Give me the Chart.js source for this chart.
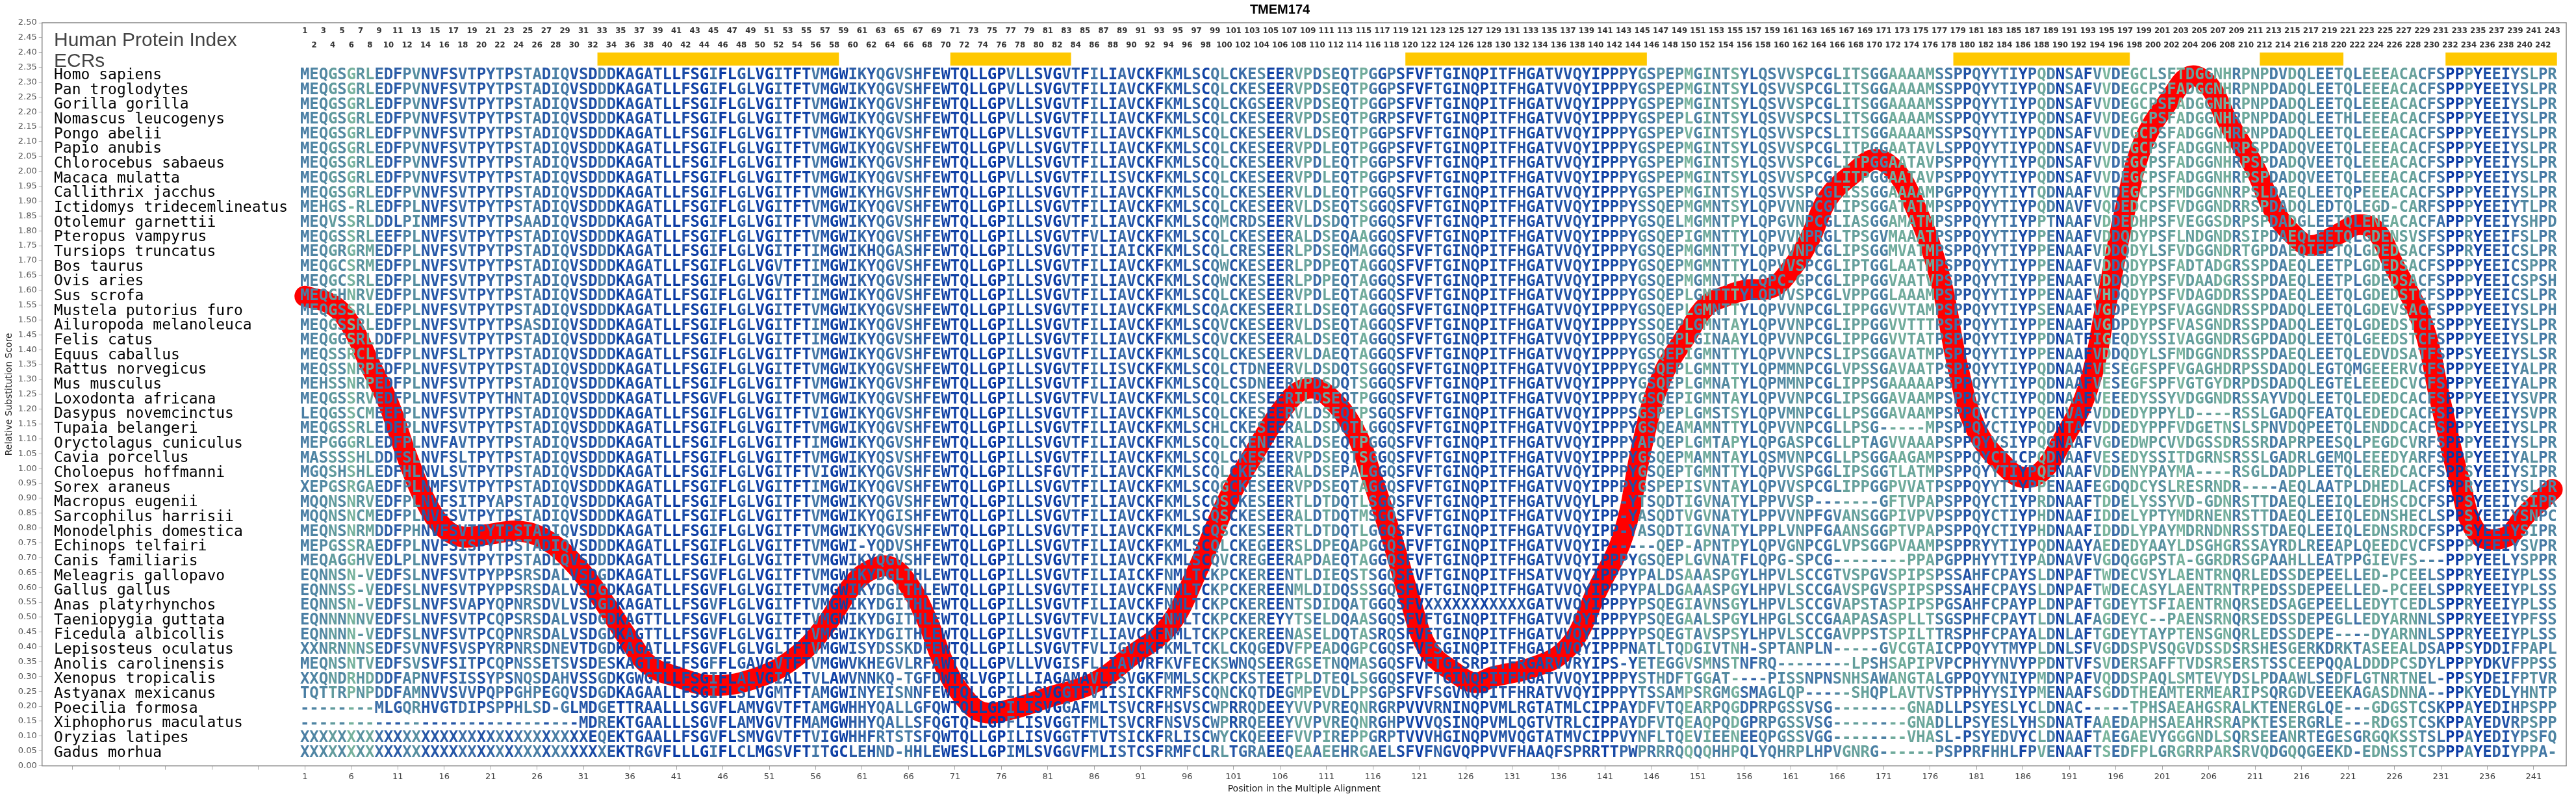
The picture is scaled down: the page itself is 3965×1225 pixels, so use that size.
<!DOCTYPE html>
<html><head><meta charset="utf-8">
<script src="https://cdn.jsdelivr.net/npm/chart.js@4.4.1/dist/chart.umd.min.js"></script>
<style>html,body{margin:0;padding:0;background:#fff}#wrap{width:3965px;height:1225px}</style>
</head><body><div id="wrap"><canvas id="c" width="3965" height="1225"></canvas></div>
<script>
const chartTitle = "TMEM174";
const speciesNames = ["Homo sapiens","Pan troglodytes","Gorilla gorilla","Nomascus leucogenys","Pongo abelii","Papio anubis","Chlorocebus sabaeus","Macaca mulatta","Callithrix jacchus","Ictidomys tridecemlineatus","Otolemur garnettii","Pteropus vampyrus","Tursiops truncatus","Bos taurus","Ovis aries","Sus scrofa","Mustela putorius furo","Ailuropoda melanoleuca","Felis catus","Equus caballus","Rattus norvegicus","Mus musculus","Loxodonta africana","Dasypus novemcinctus","Tupaia belangeri","Oryctolagus cuniculus","Cavia porcellus","Choloepus hoffmanni","Sorex araneus","Macropus eugenii","Sarcophilus harrisii","Monodelphis domestica","Echinops telfairi","Canis familiaris","Meleagris gallopavo","Gallus gallus","Anas platyrhynchos","Taeniopygia guttata","Ficedula albicollis","Lepisosteus oculatus","Anolis carolinensis","Xenopus tropicalis","Astyanax mexicanus","Poecilia formosa","Xiphophorus maculatus","Oryzias latipes","Gadus morhua"];
// alignment columns 1-36
const seqA = ["MEQGSGRLEDFPVNVFSVTPYTPSTADIQVSDDDKA","MEQGSGRLEDFPVNVFSVTPYTPSTADIQVSDDDKA","MEQGSGRLEDFPVNVFSVTPYTPSTADIQVSDDDKA","MEQGSGRLEDFPVNVFSVTPYTPSTADIQVSDDDKA","MEQGSGRLEDFPVNVFSVTPYTPSTADIQVSDDDKA","MEQGSGRLEDFPVNVFSVTPYTPSTADIQVSDDDKA","MEQGSGRLEDFPVNVFSVTPYTPSTADIQVSDDDKA","MEQGSGRLEDFPVNVFSVTPYTPSTADIQVSDDDKA","MEQGSGRLEDFPVNVFSVTPYTPSTADIQVSDDDKA","MEHGS-RLEDFPLNVFSVTPYTPSTADIQVSDDDKA","MEQVSSRLDDLPINMFSVTPYTPSAADIQVSDDDKA","MEQGSSRLEEFPLNVFSVTPYTPSTADIQVSDDDKA","MEQGRGRMEDFPLNVFSVTPYTPSTADIQVSDDDKA","MEQGCSRMEDFPLNVFSVTPYTPSTADIQVSDDDKA","MEQGCSRLEDFPLNVFSVTPYTPSTADIQVSDDDKA","MEQGHNRVEDFPLNVFSVTPYTPSTADIQVSDDDKA","MEQGSSRLEDFPLNVFSVTPYTPSTADIQVSDDDKA","MEQGSSRLEDFPLNVFSVTPYTPSASDIQVSDDDKA","MEQGGSRLDDFPLNVFSVTPYTPSTADIQVSDDDKA","MEQSSRCLEDFPLNVFSLTPYTPSTADIQVSDDDKA","MEQSSNRPEDFPLNVFSVTPYTPSTADIQVSDDDKA","MEHSSNRPEDFPLNVFSVTPYTPSTADIQVSDDDKA","MEQGSSRVEDFPLNVFSVTPYTHNTADIQVSDDDKA","LEQGSSCMEEFPLNVFSVTPYTPSTADIQVSDDDKA","MEQGSSRLEDFPLNVFSVTPYTPSTADIQVSDDDKA","MEPGGGRLEDFPLNVFAVTPYTPSTADIQVSDDDKA","MASSSSHLDDFSLNVFSLTPYTPSTADIQVSDDDKA","MGQSHSHLEDFHLNVLSVTPYTPSTADIQVSDDDKA","XEPGSRGAEDFPLNMFSVTPYTPSTADIQVSDDDKA","MQQNSNRVEDFPLNVFSITPYAPSTADIQVSDDDKA","MQQNSNCMEDFPLNVFSVTPYTPSTADIQVSDDDKA","MEQNSNRMDDFPHNVFSVTPYTPSTADIQVSDDDKA","MEPGSSRAEDFPLNVFSISPYTPSTADIQVSDDDKA","MEQAGGHVEDLPLNVFSVTPYTPSTADLQVSDDDKA","EQNNSN-VEDFSLNVFSVTPYPPSRSDALVSDGDKA","EQNNSS-VEDFSLNVFSVTPYPPSRSDALVSDGDKA","EQNNSN-VEDFSLNVFSVAPYQPNRSDVLVSDGDKA","EQNNNNNVEDFSLNVFSVTPCQPSRSDALVSDGDKA","EQNNNN-VEDFSLNVFSVTPCQPNRSDALVSDGDKA","XXNRNNNSEDFSVNVFSVSPYRPNRSDNEVTDGDKA","MEQNSNTVEDFSVSVFSITPCQPNSSETSVSDESKA","XXQNDRHDDDFAPNVFSISSYPSNQSDAHVSSGDKG","TQTTRPNPDDFAMNVVSVVPQPPGHPEGQVSDGDKA","--------MLGQRHVGTDIPSPPHLSD-GLMDGETT","------------------------------MDREKT","XXXXXXXXXXXXXXXXXXXXXXXXXXXXXXXEQEKT","XXXXXXXXXXXXXXXXXXXXXXXXXXXXXXXXXEKT"];
// columns 37-106
const seqB = ["GATLLFSGIFLGLVGITFTVMGWIKYQGVSHFEWTQLLGPVLLSVGVTFILIAVCKFKMLSCQLCKESEE","GATLLFSGIFLGLVGITFTVMGWIKYQGVSHFEWTQLLGPVLLSVGVTFILIAVCKFKMLSCQLCKESEE","GATLLFSGIFLGLVGITFTVMGWIKYQGVSHFEWTQLLGPVLLSVGVTFILIAVCKFKMLSCQLCKGSEE","GATLLFSGIFLGLVGITFTVMGWIKYQGVSHFEWTQLLGPVLLSVGVTFILIAVCKFKMLSCQLCKESEE","GATLLFSGIFLGLVGITFTVMGWIKYQGVSHFEWTQLLGPVLLSVGVTFILIAVCKFKMLSCQLCKESEE","GATLLFSGIFLGLVGITFTVMGWIKYQGVSHFEWTQLLGPVLLSVGVTFILIAVCKFKMLSCQLCKESEE","GATLLFSGIFLGLVGITFTVMGWIKYQGVSHFEWTQLLGPVLLSVGVTFILIAVCKFKMLSCQLCKESEE","GATLLFSGIFLGLVGITFTVMGWIKYQGVSHFEWTQLLGPVLLSVGVTFILISVCKFKMLSCQLCKESEE","GATLLFSGIFLGLVGITFTVMGWIKYHGVSHFEWTQLLGPILLSVGVTFILIAVCKFKMLSCQLCKESEE","GATLLFSGIFLGLVGITFTVMGWIKYQGVSHFEWTQLLGPILLSVGVTFILIAVCKFKMLSCQLCKESEE","GATLLFSGIFLGLVGITFTVMGWIKYQGVSHFEWTQLLGPILLSVGVTFILIAVCKFKMLSCQMCRDSEE","GATLLFSGIFLGLVGITFTVMGWIKYQGVSHFEWTQLLGPILLSVGVTFVLIAVCKFKMLSCQLCKESEE","GATLLFSGIFLGLVGITFTIMGWIKHQGASHFEWTQLLGPILLSVGVTFILIAICKFKMLSCQLCRESEE","GATLLFSGIFLGLVGVTFTIMGWIKYQGVSHFEWTQLLGPILLSVGVTFILIAVCKFKMLSCQWCKESEE","GATLLFSGIFLGLVGVTFTIMGWIKYQGVSHFEWTQLLGPILLSVGVTFILIAVCKFKMLSCQWCKESEE","GATLLFSGIFLGLVGITFTIMGWIKYQGVSHFEWTQLLGPILLSVGVTFILIAVCKFKMLSCQLCKESEE","GATLLFSGIFLGLVGITFTVMGWIKYQGVSHFEWTQLLGPILLSVGVTFILIAVCKFKMLSCQACKESEE","GATLLFSGIFLGLVGITFTIMGWIKYQGVSHFEWTQLLGPILLSVGVTFILIAVCKFKMLSCQVCKESEE","GATLLFSGIFLGLVGITFTIMGWIKYQGVSHFEWTQLLGPILLSVGVTFILIAVCKFKMLSCQVCKESEE","GATLLFSGIFLGLVGITFTVMGWIKYQGVSHFEWTQLLGPILLSVGVTFILIAVCKFKMLSCQLCKESEE","GATLLFSGIFLGLVGITFTVMGWIKYQGVSHFEWTQLLGPILLSVGVTFILISVCKFKMLSCQLCTDNEE","GATLLFSGIFLGLVGITFTVMGWIKYQGVSHFEWTQLLGPILLSVGVTFILIAVCKFKMLSCQLCSDNEE","GATLLFSGVFLGLVGITFTVMGWIKYQGVSHFEWTQLLGPILLSVGVTFVLIAVCKFKMLSCQLCKESEE","GATLLFSGIFLGLVGITFTVIGWIKYQGVSHFEWTQLLGPILLSVGVTFILIAVCKFKMLSCQLCKESEE","GATLLFSGIFLGLVGITFTVMGWIKYQGVSHFEWTQLLGPILLSVGVTFILIAVCKFKMLSCHLCKESEE","GATLLFSGIFLGLVGITFTIMGWIKYQGVSHFEWTQLLGPILLSVGVTFILIAVCKFKMLSCQLCKENEE","GATLLFSGIFLGLVGITFTVMGWIKYQSVSHFEWTQLLGPILLSVGVTFILIAVCKFKMLSCQLCKESEE","GATLLFSGIFLGLVGITFTVIGWIKYQGVSHFEWTQLLGPILLSFGVTFILIAVCKFKMLSCQLCKESEE","GATLLFSGIFLGLVGITFTIMGWIKYQGVSHFEWTQLLGPILLSVGVTFILIAVCKFKMLSCQGCKESEE","GATLLFSGIFLGLVGITFTVMGWIKYQGVSHFEWTQLLGPILLSVGVTFILIAVCKFKMLSCQSCKESEE","GATLLFSGIFLGLVGITFTVMGWIKYQGISHFEWTQLLGPILLSVGVTFILIAVCKFKMLSCQSCKESEE","GATLLFSGIFLGLVGITFTVMGWIKYQGVSHFEWTQLLGPILLSVGVTFILIAVCKFKMLSCQSCKESEE","GATLLFSGIFLGLVGITFTVMGWI-YQDVSHFEWTQLLGPILLSVGVTFILIAVCKFKMLSCQLCKEGEE","GATLLFSGIFLGLVGITFTVMGWIKYQGVSHFEWTQLLGPILLSVGVTFILIAVCKFKMLSCQVCREGEE","GATLLFSGVFLGLVGITFTVMGWIKYDGLTHLEWTQLLGPILLSVGVTFILIAICKFNMLTCKPCKEREE","GATLLFSGVFLGLVGITFTVMGWIKYDGLTHLEWTQLLGPILLSVGVTFILIAVCKFNMLTCKPCKEREE","GATLLFSGVFLGLVGITFTVMGWIKYDGITHLEWTQLLGPILLSVGVTFILIAVCKFNMLTCKPCKEREE","GTTLLFSGVFLGLVGITFTVMGWIKYDGITHLEWTQLLGPILLSVGVTFVLIAVCKFNMLTCKPCKEREY","GTTLLFSGVFLGLVGITFTVMGWIKYDGITHLEWTQLLGPILLSVGVTFILIAVCKFNMLTCKPCKEREE","GATLLFSGVFLGLVGLTFTVMGWISYDSSKDFEWTQLLGPILLSVGVTFVLIGVCKFKMLTCKLCKQGED","GTTFLFSGFFLGAVGVTFTVMGWVKHEGVLRFAWTQLLGPVLLVVGISFLLIAVVRFKVFECKSWNQSEE","WGTLLFSGIFLALVGIALTVLAWVNNKQ-TGFDWTRLVGPILLIAGAMAVLISVGKFMMLSCKPCKSTEE","GAALLFSGIFLSLVGMTFTAMGWINYEISNNFEWTQLLGPILLSVGGTFVIISICKFRMFSCQNCKQTDE","RAALLLSGVFLAMVGVTFTAMGWHHYQALLGFQWTQLLGPILISVGGAFMLTSVCRFHSVSCWPRRQDEE","GAALLLSGVFLAMVGVTFMAMGWHHYQALLSFQGTQLLGPFLISVGGTFMLTSVCRFNSVSCWPRRQEEE","GAALLFSGVFLSMVGVTFTVIGWHHFRTSTSFQWTQLLGPILISVGGTFTVTSICKFRLISCWYCKQEEE","RGVFLLLGIFLCLMGSVFTITGCLEHND-HHLEWESLLGPIMLSVGGVFMLISTCSFRMFCLRLTGRAEE"];
// columns 107-174
const seqC = ["RVPDSEQTPGGPSFVFTGINQPITFHGATVVQYIPPPYGSPEPMGINTSYLQSVVSPCGLITSGGAAA","RVPDSEQTPGGPSFVFTGINQPITFHGATVVQYIPPPYGSPEPMGINTSYLQSVVSPCGLITSGGAAA","RVPDSEQTPGGPSFVFTGINQPITFHGATVVQYIPPPYGSPEPMGINTSYLQSVVSPCGLITSGGAAA","RVPDSEQTPGRPSFVFTGINQPITFHGATVVQYIPPPYGSPEPLGINTSYLQSVVSPCSLITSGGAAA","RVLDSEQTPGGPSFVFTGINQPITFHGATVVQYIPPPYGSPEPVGINTSYLQSVVSPCSLITSGGAAA","RVPDLEQTPGGPSFVFTGINQPITFHGATVVQYIPPPYGSPEPMGINTSYLQSVVSPCGLITPGGAAT","RVPDLEQTPGGPSFVFTGINQPITFHGATVVQYIPPPYGSPEPMGINTSYLQSVVSPCGLITPGGAAT","RVPDLEQTPGGPSFVFTGINQPITFHGATVVQYIPPPYGSPEPMGINTSYLQSVVSPCGLITPGGAAT","RVLDLEQTPGGQSFVFTGINQPITFHGATVVQYIPPPYGSPEPMGINTSYLQSVVSPCGLISSGGAAA","RVLDSEQTSGGQSFVFTGINQPITFHGATVVQYIPPPYSSQEPMGMNTSYLQPVVNPCGLIPSGGATA","RVLDSDQTPGGQSFVFTGINQPITFHGATVVQYIPPPYGSQELMGMNTPYLQPGVNPCGLIASGGAMA","RALDSEQAAGGQSFVFTGINQPITFHGATVVQYIPPPYGSQEPIGMNTTYLQPVVNPRGLTPSGVMAA","RLPDSEQMAGGQSFVFTGINQPITFHGATVVQYIPPPYGSQEPMGMNTTYLQPVVNPCGLIPSGGMVA","RLPDPEQTAGGQSFVFTGINQPITFHGATVVQYIPPPYGSQEPMGMNTTYLQPVVSPCGLIPTGGLAA","RLPDPEQTAGGQSFVFTGINQPITFHGATVVQYIPPPYGSQEPMGMNTTYLQPC-GPCGLIPPGGVAA","RVPDLEQTAGGQSFVFTGINQPITFHGATVVQYIPPPYGSQEPLGMTTTYLQPVVSPCGLVPPGGLAA","RILDSEQTAGGQSFVFTGINQPITFHGATVVQYIPPPYGSQEPLGMNTTYLQPVVNPCGLIPPGGVVT","RVLDSEQTAGGQSFVFTGINQPITFHGATVVQYIPPPYSSQEPLGMNTAYLQPVVNPCGLIPPGGVVT","RALDSEQTAGGQSFVFTGINQPITFHGATVVQYIPPPYGSQEPLGINAAYLQPVVNPCGLIPPGGVVT","RVLDAEQTAGGQSFVFTGINQPITFHGATVVQYIPPPYGSQEPIGMNTTYLQPVVNPCSLIPSGGAVA","RVLDSDQTSGGQSFVFTGINQPITFHGATVVQYIPPPYGSQEPLGMNTTYLQPMMNPCGLVPSSGAVA","RVPDSDQTSGGQSFVFTGINQPITFHGATVVQYIPPPYGSQEPLGMNATYLQPMMNPCGLIPPSGAAA","RILDSEQTPGGQSFVFTGINQPITFHGATVVQYIPPPYGSQEPIGMNTAYLQPVVNPCGLIPSGGAVA","RVLDSEQTPSGQSFVFTGINQPITFHGATVVQYIPPPSGSPEPLGMSTSYLQPVMNPCGLLPSGGAVA","RALDSDQTLGGQSFVFTGINQPITFHGATVVQYIPPPYGSQEAMAMNTTYLQPVVNPCGLLPSG----","RALDSEQTPGGQSFVFTGINQPITFHGATVVQYIPPPYAPQEPLGMTAPYLQPGASPCGLLPTAGVVA","RVPDSEQTSGGQSFVFTGINQPITFHGATVVQYIPPPYGSQEPMAMNTAYLQSMVNPCGLLPSGGAAG","RALDSEPALGGQSFVFTGINQPITFHGATVVQYIPPPYGSQEPTGMNTTYLQPVVSPGGLIPSGGTLA","RVPDSEQTAGGQSFVFTGINQPITFHGATVVQYIPPPYGSPEPISVNTAYLQPVVSPCGLIPPGGPVV","RTLDTDQTLSGQSFVFTGINQPITFHGATVVQYLPP-YTSQDTIGVNATYLPPVVSP-------GFTV","RALDTDQTMSGQSFVFTGINQPITFHGATVVQYIPP-YASQDTVGVNATYLPPVVNPFGVANSGGPIV","RTLDTDQTLGGQSFVFTGINQPITFHGATVVQYIPP-YASQDTIGVNATYLPPLVNPFGAANSGGPTV","RSLDPEQAPGGQSFVFTGINQPITFHGATVVQYIP-----QEP-APNTPYLQPVGNPCGLVPSGGPVA","RAPDAEQTAGGQSFVFTGINQPITFHGATVVQYIPPPYGSQEPLGVNATFLQPG-SPCG--------P","NTLDIEQSTSGQSFVFTGINQPITFHSATVVQYIPPPYPALDSAAASPGYLHPVLSCCGTVSPGVSPI","NMLDIDQSSSGQSFVFTGINQPITFHGATVVQYIPPPYPALDGAAASPGYLHPVLSCCGAVSPGVSPI","NTSDIDQATGGQSFVXXXXXXXXXXXGATVVQYIPPPYPSQEGIAVNSGYLHPVLSCCGVAPSTASPI","YTSELDQAASGQSFVFTGINQPITFHGATVVQYIPPPYPSQEGAALSPGYLHPGLSCCGAAPASASPL","NASELDQTASRQSFVFTGINQPITFHGATVVQYIPPPYPSQEGTAVSPSYLHPVLSCCGAVPPSTSPI","VFPEADQGPCGQSFVFSGINQPITFHGATVVQYIPPPNATLTQDGIVTNH-SPTANPLN-----GVCG","RGSETNQMASGQSFVFTGISRPITFRGARVVRYIPS-YETEGGVSMNSTNFRQ--------LPSHSAP","TPLDTEQLSGGQSFVFTGINQPITFHGATVVQYIPPPYSTHDFTGGAT----PISSNPNSNHSAWANG","GMPEVDLPPSGPSFVFSGVNQPITFHRATVVQYIPPPYTSSAMPSRGMGSMAGLQP-----SHQPLAV","YVVPVREQNRGRPVVVRNINQPVMLRGTATMLCIPPAYDFVTQEARPQGDPRPGSSVSG--------G","YVVPVREQNRGHPVVVQSINQPVMLQGTVTRLCIPPAYDFVTQEAQPQDGPRPGSSVSG--------G","FVVPIREPPGRPTVVVHGINQPVMVQGTATMVCIPPVYNFLTQEVIEENEEQPGSSVGG--------V","QEAAEEHRGAELSFVFNGVQPPVVFHAAQFSPRRTTPWPRRRQQQQHHPQLYQHRPLHPVGNRG----"];
// columns 175-243
const seqD = ["AMSSPPQYYTIYPQDNSAFVVDEGCLSFTDGGNHRPNPDVDQLEETQLEEEACACFSPPPYEEIYSLPR","AMSSPPQYYTIYPQDNSAFVVDEGCPSFADGGNHRPNPDADQLEETQLEEEACACFSPPPYEEIYSLPR","AMSSPPQYYTIYPQDNSAFVVDEGCPSFADGGNHRPNPDADQLEETQLEEEACACFSPPPYEEIYSLPR","AMSSPPQYYTIYPQDNSAFVVDEGCPSFADGGNHRPNPDADQLEETHLEEEACACFSPPPYEEIYSLPR","AMSSPSQYYTIYPQDNSAFVVDEGCPSFADGGNHRPNPDADQLEETQLEEEACACFSPPPYEEIYSLPR","AVLSPPQYYTIYPQDNSAFVVDEGCPSFADGGNHRPSPDADQVEETQLEEEACACFSPPPYEEIYSLPR","AVPSPPQYYTIYPQDNSAFVVDEGCPSFADGGNHRPSPDADQVEETQLEEEACACFSPPPYEEIYSLPR","AVPSPPQYYTIYPQDNSAFVVDEGCPSFADGGNHRPSPDADQVEETQLEEEACACFSPPPYEEIYSLPR","AMPGPPQYYTIYTQDNAAFVVDEGCPSFMDGGNNRPSLDAEQLEETQPEEEACACFSPPPYEEIYSLPR","TMPSPPQYYTIYPQDNAVFVQDEDCPSFVDGGNDRRSPDADQLEDTQLEGD-CARFSPPPYEEIYTLPR","TMPSPPQYYTIYPPTNAAFVDDEDHPSFVEGGSDRPSPDADGLEETQLENEACACFAPPPYEEIYSHPD","ATPSPPQYYTIYPPENAAFVDDQDYPSFLNDGNDRSIPDAEQLEETQLGDENSVSFSPPRYEEIFSLPR","TMPSPPQYYTIYPPENAAFVDDQDYLSFVDGGNDRTGPDAEQIEETQLGDEDSACFSPPRYEEICSLPR","TMPSPPQYYTIYPPENAAFVDDQDYPSFADTADGRSSPDAEQLEETPLGDEDSACFSPPPYEEICSPPR","TVPSPPQYYTIYPPENAAFVDDQDYPSFVDAADGRSSPDAEQLEETPLGDEDSACFSPPPYEEICSPSH","AMPSPPQYYTIYPPENAAFVHDQDYPSFVDAGDDRSSPDAEQLEETQLGDEDSTCFSPPPYEEICSLPR","AMPSPPQYYTIYPSENAAFVGDPEYPSFVAGGNDRSSPDADQLEETQLGDEVSACFSPPPYEEIYSLPH","TTPSPPQYYTIYPPENAAFVGDPDYPSFVASGNDRSSPDADQLEETQLGDEDSTCFSPPPYEEIYSLPR","ATPSPPQYYTIYPPDNATFIGEQDYSSIVAGGNDRSGPDADQLEETQLGEEDSTCFSPPPYEEIYSLPR","TMPSPPQYYTIYPPENAAFVDDQDYLSFMDGGNDRSSPDAEQLEETQLEDVDSATFSPPSYEEIYSLSR","ATPSPPQYYTIYPQDNAAFVESEGFSPFVGAGHDRPSSDADQLEGTQMGEEERVCFSPPPYEEIYALPR","AAPSPPQYYTIYPQDNAAFVESEGFSPFVGTGYDRPDSDADQLEGTELEEEDCVCFSPPPYEEIYALPR","AMPSPPQYCTIYPQDNAAFVEEEDYSSYVDGGNDRSSAYVDQLEETQLEDEDCACFSPPPYEEIYSVPR","AMPSPPQYCTIYPQENVAFVDDEDYPPYLD----RSSLGADQFEATQLEDEDCACFSPPPYEEIYSVPR","-MPSPPQYCTIYPQDNTAFVDDEDYPPFVDGETNSLSPNVDQPEETQLENDDCACFSPPPYEEIYSLPR","AAPSPPQYYSIYPQGNAAFVGDEDWPCVVDGSSDRSSRDAPRPEESQLPEGDCVRFSPPPYEEIYSLPR","AMPSPPQYCTICPQDNAAFVESEDYSSITDGRNSRSSLGADRLGEMQLEEEDYARFSPPPYEEIYALPR","TMPSPPQYYTIYPQENAAFVDDENYPAYMA----RSGLDADPLEETQLEREDCACFSPPSYEEIYSIPR","ATPSPPQYYTIYPPENAAFEGDQDCYSLRESRNDR----AEQLAATPLDHEDLACFSPPRYEEIYSLPR","PAPSPPQYCTIYPRDNAAFTDDELYSSYVD-GDNRSTTDAEQLEEIQLEDHSCDCFSPPSYEEIYSIPR","PVPSPPQYCTIYPHDNAAFIDDELYPTYMDRNENRSTTDAEQLEEIQLEDNSHECLSPPSYEEIYSNPC","PAPSPPQYCTIYPHDNAAFIDDDLYPAYMDRNDNRSSTDAEQLEEIQLEDNSRDCFSPPSYEEIYSIPR","AMPSPPRYYTIYPQDNAAYAEDEDYAAYLDSGHGRSSAYRDLREEAPLQEEDCVCFSPPPYEEIYSVPR","PAPGPPHYYTIYPADNAVFVGDQGGPSTA-GGRDRSGPAAHLLEATPPGIEVFS---PPPYEELYSPPR","PSPSSAHFCPAYSLDNPAFTWDECVSYLAENTRNQRLEDSSDEPEELLED-PCEELSPPRYEEIYPLSS","PSPSSAHFCPAYSLDNPAFTWDECASYLAENTRNTRPEDSSDEPEELLED-PCEELSPPRYEEIYPLSS","PSPGSAHFCPAYPLDNPAFTGDEYTSFIAENTRNQRSEDSAGEPEELLEDYTCEDLSPPRYEEIYPLSS","LTSGSPHFCPAYTLDNLAFAGDEYC--PAENSRNQRSEDSSDEPEGLLEDYARNNLSPPRYEEIYPFSS","LTTRSPHFCPAYALDNLAFTGDEYTAYPTENSGNQRLEDSSDEPE----DYARNNLSPPRYEEIYPLSS","TAICPPQYYTMYPLDNLSFVGDDSPVSQGVDSSDSRSHESGERKDRKTASEEALDSAPPSYDDIFPAPL","IPVPCPHYYNVYPPDNTVFSVDERSAFFTVDSRSERSTSSCEEPQQALDDDPCSDYLPPPYDKVFPPSS","TALGPPQYYNIYPMDNPAFVQDDSPAQLSMTEVYDSLPDAAWLSEDFLGTNRTNEL-PPSYDEIFPTVR","TVSTPPHYYSIYPMENAAFSGDDTHEAMTERMEARIPSQRGDVEEEKAGASDNNA--PPKYEDLYHNTP","NADLLPSYESLYCLDNAC-----TPHSAEAHGSRALKTENERGLQE---GDGSTCSKPPAYEDIHPSPP","NADLLPSYESLYHSDNATFAAEDAPHSAEAHRSRAPKTESERGRLE---RDGSTCSKPPAYEDVRPSPP","HASL-PSYEDVYCLDNAAFTAEGAEVYGGGNDLSQRSEEANRTEGESGRGQKSSTSLPPAYEDIYPSFQ","--PSPPRFHHLFPVENAAFTSEDFPLGRGRRPARSRVQDGQQGEEKD-EDNSSTCSPPPAYEDIYPPA-"];
const ecrStarts = [33, 71, 120, 179, 212, 232];
const ecrEnds   = [58, 83, 145, 197, 220, 243];
const scorePositions = [1,4,6,8,10,12,14,16,18,21,24,27,30,33,36,38,41,45,50,54,57,60,62,64,66,68,70,72,74,77,81,86,90,94,97,100,103,107,109,111,114,116,118,120,122,125,127,129,132,134,136,138,140,143,145,147,150,152,154,156,159,161,163,165,168,170,172,174,177,179,181,184,186,188,190,193,195,197,199,202,204,206,208,211,213,215,217,220,222,224,226,229,231,233,235,238,240,242,243];
const scoreValues = [1.58,1.55,1.48,1.35,1.22,1.04,0.89,0.80,0.77,0.78,0.79,0.76,0.68,0.56,0.42,0.34,0.30,0.27,0.30,0.37,0.47,0.61,0.66,0.67,0.61,0.49,0.33,0.23,0.18,0.19,0.23,0.28,0.37,0.47,0.65,0.87,1.04,1.23,1.27,1.25,1.13,0.96,0.77,0.56,0.39,0.31,0.28,0.30,0.32,0.34,0.37,0.44,0.58,0.78,1.08,1.30,1.46,1.55,1.58,1.60,1.61,1.67,1.77,1.91,2.00,2.04,2.01,1.91,1.65,1.34,1.13,1.01,0.97,0.99,1.08,1.27,1.56,1.87,2.10,2.25,2.32,2.29,2.17,2.01,1.87,1.79,1.75,1.79,1.82,1.80,1.68,1.49,1.22,0.96,0.78,0.77,0.84,0.90,0.93];
const xTickValues = []; for (let v = -24; v <= 241; v += 5) xTickValues.push(v);

function fit(s, n) { s = s.slice(0, n); while (s.length < n) s += '-'; return s; }
const rows = speciesNames.map((_, i) => fit(seqA[i], 36) + fit(seqB[i], 70) + fit(seqC[i], 68) + fit(seqD[i], 69));
const nCols = 243;
function hex(c){return [parseInt(c.slice(1,3),16),parseInt(c.slice(3,5),16),parseInt(c.slice(5,7),16)];}
function lerp(a,b,t){const A=hex(a),B=hex(b);return 'rgb('+A.map((v,k)=>Math.round(v+(B[k]-v)*t)).join(',')+')';}
const colColors = [];
for (let j = 0; j < nCols; j++) {
  const cnt = {}; let mx = 0;
  rows.forEach(r => { const ch = r[j]; cnt[ch] = (cnt[ch]||0)+1; if (cnt[ch] > mx) mx = cnt[ch]; });
  const f = mx / rows.length;
  let col;
  if (f < 0.45) col = lerp('#8fcba0', '#6aa59b', f/0.45);
  else if (f < 0.8) col = lerp('#6aa59b', '#3d6fa8', (f-0.45)/0.35);
  else col = lerp('#3d6fa8', '#0a3aa5', (f-0.8)/0.2);
  colColors.push(col);
}

const bgPlugin = {
  id: 'alignment',
  beforeDatasetsDraw(chart) {
    const ctx = chart.ctx, xs = chart.scales.x, ys = chart.scales.y, ca = chart.chartArea;
    ctx.save();
    ctx.beginPath(); ctx.rect(ca.left, ca.top, ca.right-ca.left, ca.bottom-ca.top); ctx.clip();
    ctx.fillStyle = '#444';
    ctx.font = '30px "Liberation Sans Narrow", "Liberation Sans", sans-serif';
    ctx.textAlign = 'left'; ctx.textBaseline = 'middle';
    ctx.fillText('Human Protein Index', 83, ys.getPixelForValue(2.44));
    ctx.fillText('ECRs', 83, ys.getPixelForValue(2.37));
    ctx.font = 'bold 13px "DejaVu Sans Condensed", "DejaVu Sans", sans-serif';
    ctx.textAlign = 'center'; ctx.fillStyle = '#333';
    for (let p = 1; p <= nCols; p++) {
      ctx.fillText(String(p), xs.getPixelForValue(p), ys.getPixelForValue(p % 2 ? 2.473 : 2.424));
    }
    ctx.fillStyle = '#ffc800';
    const yt = ys.getPixelForValue(2.40), yb = ys.getPixelForValue(2.356);
    for (let k = 0; k < ecrStarts.length; k++) {
      const x0 = xs.getPixelForValue(ecrStarts[k]-0.5), x1 = xs.getPixelForValue(ecrEnds[k]+0.5);
      ctx.fillRect(x0, yt, x1-x0, yb-yt);
    }
    ctx.fillStyle = '#000'; ctx.textAlign = 'left';
    ctx.font = '23px "DejaVu Sans Mono", monospace';
    rows.forEach((r, i) => ctx.fillText(speciesNames[i], 83, ys.getPixelForValue(2.323 - 0.04955*i)));
    ctx.restore();
  },
  afterDatasetsDraw(chart) {
    const ctx = chart.ctx, xs = chart.scales.x, ys = chart.scales.y;
    ctx.save();
    ctx.textAlign = 'center'; ctx.textBaseline = 'middle';
    ctx.font = 'bold 24px "DejaVu Sans Mono", monospace';
    rows.forEach((r, i) => {
      const y = ys.getPixelForValue(2.323 - 0.04955*i);
      for (let j = 0; j < nCols; j++) {
        ctx.fillStyle = colColors[j];
        ctx.fillText(r[j], xs.getPixelForValue(j+1), y);
      }
    });
    ctx.restore();
  },
  afterDraw(chart) {
    const ctx = chart.ctx, ca = chart.chartArea;
    ctx.save(); ctx.strokeStyle = '#888'; ctx.lineWidth = 1.5;
    ctx.strokeRect(ca.left, ca.top, ca.right-ca.left, ca.bottom-ca.top);
    ctx.fillStyle = '#000'; ctx.font = 'bold 20px "Liberation Sans", Arial, sans-serif';
    ctx.textAlign = 'center'; ctx.textBaseline = 'middle';
    ctx.fillText(chartTitle, 1970, 15);
    ctx.restore();
  }
};

new Chart(document.getElementById('c'), {
  type: 'line',
  data: { datasets: [{
    data: scorePositions.map((p, i) => ({x: p, y: scoreValues[i]})),
    borderColor: '#ff0000', borderWidth: 32, backgroundColor: '#ff0000',
    pointRadius: 15, pointBorderWidth: 0, pointBorderColor: '#ff0000',
    borderCapStyle: 'round', borderJoinStyle: 'round',
    tension: 0.4, fill: false
  }]},
  options: {
    responsive: false, animation: false, devicePixelRatio: 1,
    layout: { padding: { top: 35, right: 11, left: 4, bottom: 0 } },
    plugins: { legend: { display: false }, tooltip: { enabled: false } },
    scales: {
      x: { type: 'linear', min: -27.3, max: 244.5,
        afterBuildTicks: ax => { ax.ticks = xTickValues.map(v => ({value: v})); },
        ticks: { autoSkip: false, maxRotation: 0, color: '#444', font: { size: 13, family: 'DejaVu Sans' },
          callback: v => v >= 1 ? String(v) : '' },
        grid: { drawOnChartArea: false, drawTicks: true, tickLength: 6, color: '#aaa' },
        border: { display: true, color: '#aaa' },
        title: { display: true, text: 'Position in the Multiple Alignment', color: '#222', font: { size: 14, family: 'DejaVu Sans' }, padding: { top: 0, bottom: 2 } } },
      y: { min: 0, max: 2.5,
        ticks: { stepSize: 0.05, autoSkip: false, color: '#555', font: { size: 13, family: 'DejaVu Sans' },
          callback: v => Number(v).toFixed(2) },
        grid: { drawOnChartArea: false, drawTicks: true, tickLength: 5, color: '#aaa' },
        border: { display: true, color: '#aaa' },
        title: { display: true, text: 'Relative Substitution Score', color: '#222', font: { size: 14, family: 'DejaVu Sans' }, padding: 2 } }
    }
  },
  plugins: [bgPlugin]
});
</script></body></html>
